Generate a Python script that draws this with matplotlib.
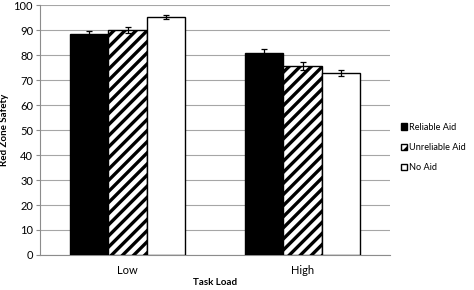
import numpy as np
import matplotlib
matplotlib.use("Agg")
import matplotlib.pyplot as plt

plt.rcParams['font.family'] = ['Lato', 'DejaVu Sans']
plt.rcParams['hatch.linewidth'] = 2.4

# data
categories = ["Low", "High"]
series = ["Reliable Aid", "Unreliable Aid", "No Aid"]
values = [
    [88.3, 80.7],   # Reliable Aid
    [89.9, 75.6],   # Unreliable Aid
    [95.1, 72.9],   # No Aid
]
errors = [
    [1.2, 1.6],
    [1.2, 1.5],
    [0.8, 1.3],
]

fig = plt.figure(figsize=(4.74, 2.90), dpi=100)
ax = fig.add_axes([0.0844, 0.1207, 0.7386, 0.862])

x = np.arange(len(categories))
width = 0.22
styles = [
    dict(color="black", edgecolor="black"),
    dict(color="white", edgecolor="black", hatch="///"),
    dict(color="white", edgecolor="black"),
]

for i, name in enumerate(series):
    ax.bar(x + (i - 1) * width, values[i], width, label=name,
           linewidth=1.0, zorder=3, **styles[i])
    ax.errorbar(x + (i - 1) * width, values[i], yerr=errors[i], fmt="none",
                ecolor="black", elinewidth=0.9, capsize=2.5, capthick=0.9, zorder=4)

ax.set_xlim(-0.5, 1.5)
ax.set_ylim(0, 100)
ax.set_yticks(range(0, 101, 10))
ax.set_xticks(x)
ax.set_xticklabels(categories)
ax.yaxis.grid(True, color="#a6a6a6", linewidth=0.8, zorder=0)
ax.set_axisbelow(True)

for s in ["top", "right"]:
    ax.spines[s].set_visible(False)
for s in ["left", "bottom"]:
    ax.spines[s].set_color("#8c8c8c")
    ax.spines[s].set_linewidth(0.8)

ax.tick_params(axis="y", length=3, color="#8c8c8c", labelsize=8, pad=2)
ax.tick_params(axis="x", length=0, labelsize=8, pad=7)

ax.set_ylabel("Red Zone Safety", fontsize=7, fontweight="bold", labelpad=3)
ax.set_xlabel("Task Load", fontsize=7, fontweight="bold", labelpad=2)

ax.legend(loc="center left", bbox_to_anchor=(1.03, 0.43), frameon=False,
          fontsize=6.6, handlelength=0.7, handleheight=0.7, handletextpad=0.25,
          labelspacing=1.25, borderaxespad=0, borderpad=0)

fig.savefig("out.png", dpi=100)
